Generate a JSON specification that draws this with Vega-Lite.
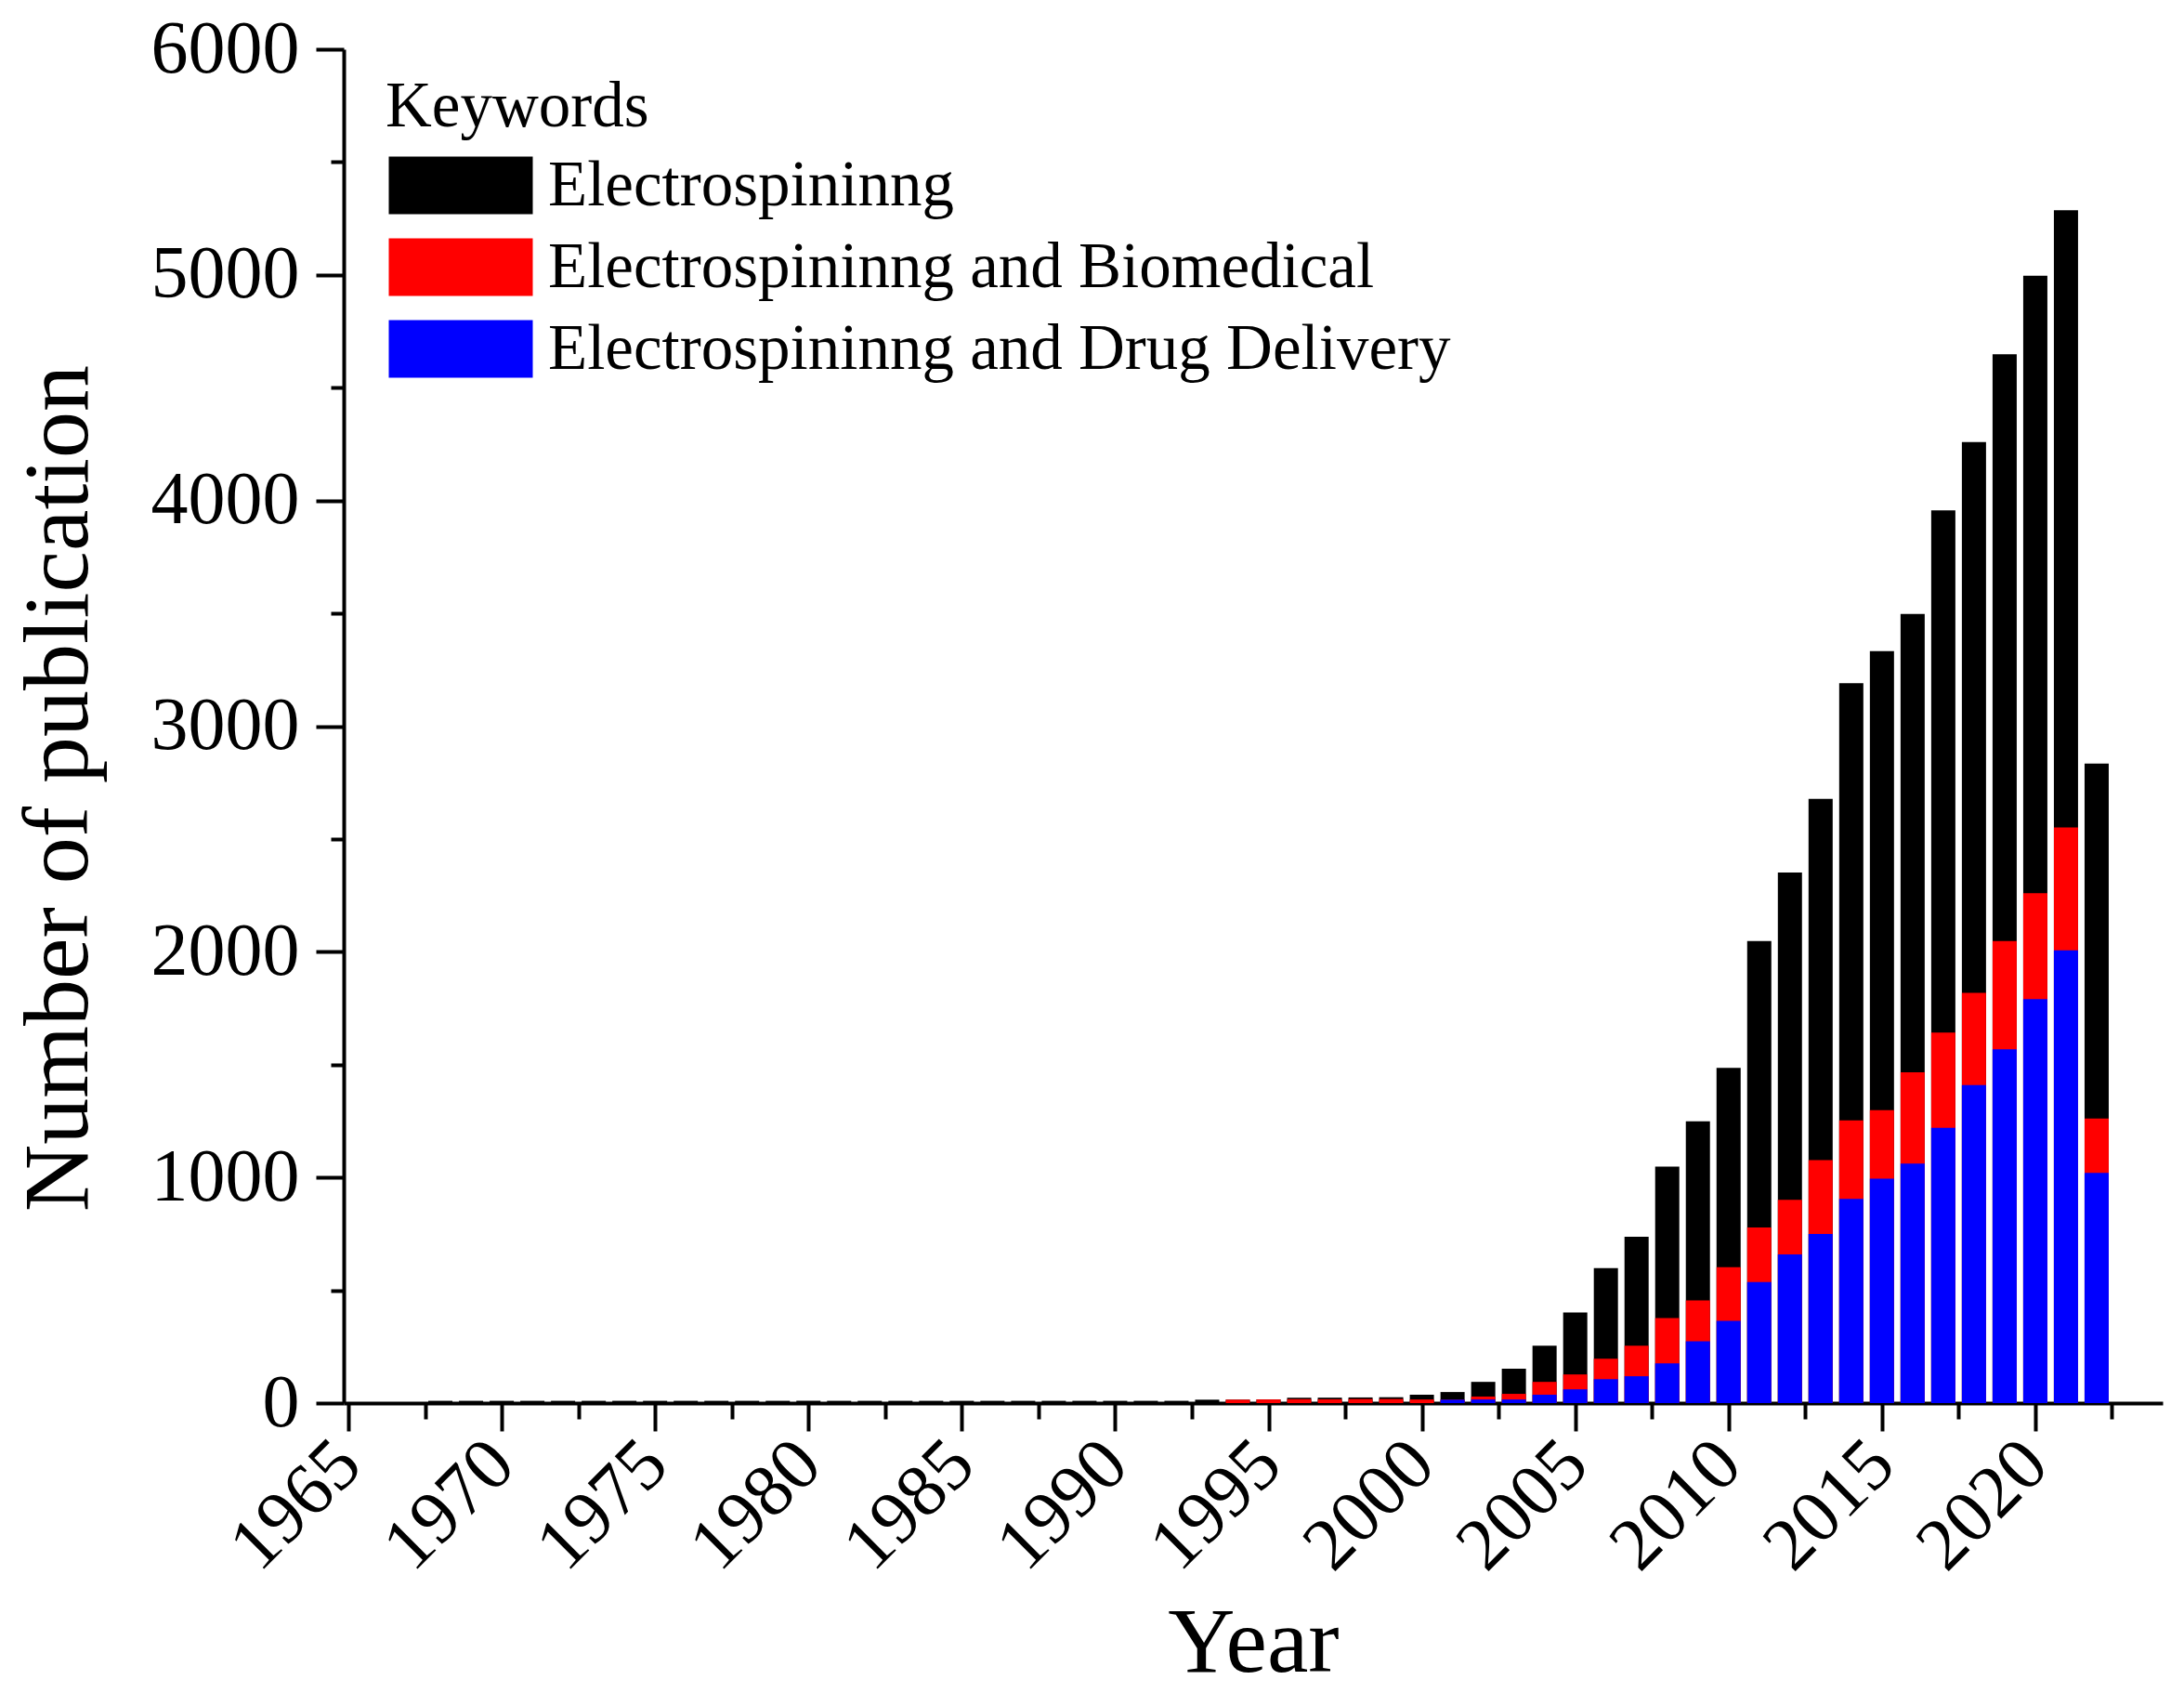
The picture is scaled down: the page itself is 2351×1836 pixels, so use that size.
{
  "$schema": "https://vega.github.io/schema/vega-lite/v6.json",
  "width": 1958,
  "height": 1457,
  "autosize": {"type": "none"},
  "padding": {"left": 370, "top": 53, "right": 23, "bottom": 326},
  "background": "white",
  "data": {"values": [
    {"year": 1968, "keyword": "Electrospininng", "count": 10},
    {"year": 1969, "keyword": "Electrospininng", "count": 10},
    {"year": 1970, "keyword": "Electrospininng", "count": 10},
    {"year": 1971, "keyword": "Electrospininng", "count": 10},
    {"year": 1972, "keyword": "Electrospininng", "count": 10},
    {"year": 1973, "keyword": "Electrospininng", "count": 10},
    {"year": 1974, "keyword": "Electrospininng", "count": 10},
    {"year": 1975, "keyword": "Electrospininng", "count": 10},
    {"year": 1976, "keyword": "Electrospininng", "count": 10},
    {"year": 1977, "keyword": "Electrospininng", "count": 10},
    {"year": 1978, "keyword": "Electrospininng", "count": 10},
    {"year": 1979, "keyword": "Electrospininng", "count": 10},
    {"year": 1980, "keyword": "Electrospininng", "count": 10},
    {"year": 1981, "keyword": "Electrospininng", "count": 10},
    {"year": 1982, "keyword": "Electrospininng", "count": 10},
    {"year": 1983, "keyword": "Electrospininng", "count": 10},
    {"year": 1984, "keyword": "Electrospininng", "count": 10},
    {"year": 1985, "keyword": "Electrospininng", "count": 10},
    {"year": 1986, "keyword": "Electrospininng", "count": 10},
    {"year": 1987, "keyword": "Electrospininng", "count": 10},
    {"year": 1988, "keyword": "Electrospininng", "count": 10},
    {"year": 1989, "keyword": "Electrospininng", "count": 10},
    {"year": 1990, "keyword": "Electrospininng", "count": 10},
    {"year": 1991, "keyword": "Electrospininng", "count": 10},
    {"year": 1992, "keyword": "Electrospininng", "count": 10},
    {"year": 1993, "keyword": "Electrospininng", "count": 15},
    {"year": 1994, "keyword": "Electrospininng", "count": 15},
    {"year": 1995, "keyword": "Electrospininng", "count": 16},
    {"year": 1996, "keyword": "Electrospininng", "count": 24},
    {"year": 1997, "keyword": "Electrospininng", "count": 24},
    {"year": 1998, "keyword": "Electrospininng", "count": 25},
    {"year": 1999, "keyword": "Electrospininng", "count": 26},
    {"year": 2000, "keyword": "Electrospininng", "count": 37},
    {"year": 2001, "keyword": "Electrospininng", "count": 49},
    {"year": 2002, "keyword": "Electrospininng", "count": 94},
    {"year": 2003, "keyword": "Electrospininng", "count": 152},
    {"year": 2004, "keyword": "Electrospininng", "count": 254},
    {"year": 2005, "keyword": "Electrospininng", "count": 401},
    {"year": 2006, "keyword": "Electrospininng", "count": 598},
    {"year": 2007, "keyword": "Electrospininng", "count": 737},
    {"year": 2008, "keyword": "Electrospininng", "count": 1048},
    {"year": 2009, "keyword": "Electrospininng", "count": 1249},
    {"year": 2010, "keyword": "Electrospininng", "count": 1486},
    {"year": 2011, "keyword": "Electrospininng", "count": 2048},
    {"year": 2012, "keyword": "Electrospininng", "count": 2351},
    {"year": 2013, "keyword": "Electrospininng", "count": 2678},
    {"year": 2014, "keyword": "Electrospininng", "count": 3190},
    {"year": 2015, "keyword": "Electrospininng", "count": 3333},
    {"year": 2016, "keyword": "Electrospininng", "count": 3497},
    {"year": 2017, "keyword": "Electrospininng", "count": 3956},
    {"year": 2018, "keyword": "Electrospininng", "count": 4259},
    {"year": 2019, "keyword": "Electrospininng", "count": 4648},
    {"year": 2020, "keyword": "Electrospininng", "count": 4996},
    {"year": 2021, "keyword": "Electrospininng", "count": 5287},
    {"year": 2022, "keyword": "Electrospininng", "count": 2834},
    {"year": 1994, "keyword": "Electrospininng and Biomedical", "count": 15},
    {"year": 1995, "keyword": "Electrospininng and Biomedical", "count": 16},
    {"year": 1996, "keyword": "Electrospininng and Biomedical", "count": 17},
    {"year": 1997, "keyword": "Electrospininng and Biomedical", "count": 17},
    {"year": 1998, "keyword": "Electrospininng and Biomedical", "count": 18},
    {"year": 1999, "keyword": "Electrospininng and Biomedical", "count": 18},
    {"year": 2000, "keyword": "Electrospininng and Biomedical", "count": 16},
    {"year": 2001, "keyword": "Electrospininng and Biomedical", "count": 15},
    {"year": 2002, "keyword": "Electrospininng and Biomedical", "count": 29},
    {"year": 2003, "keyword": "Electrospininng and Biomedical", "count": 41},
    {"year": 2004, "keyword": "Electrospininng and Biomedical", "count": 94},
    {"year": 2005, "keyword": "Electrospininng and Biomedical", "count": 127},
    {"year": 2006, "keyword": "Electrospininng and Biomedical", "count": 197},
    {"year": 2007, "keyword": "Electrospininng and Biomedical", "count": 254},
    {"year": 2008, "keyword": "Electrospininng and Biomedical", "count": 377},
    {"year": 2009, "keyword": "Electrospininng and Biomedical", "count": 455},
    {"year": 2010, "keyword": "Electrospininng and Biomedical", "count": 602},
    {"year": 2011, "keyword": "Electrospininng and Biomedical", "count": 778},
    {"year": 2012, "keyword": "Electrospininng and Biomedical", "count": 901},
    {"year": 2013, "keyword": "Electrospininng and Biomedical", "count": 1077},
    {"year": 2014, "keyword": "Electrospininng and Biomedical", "count": 1253},
    {"year": 2015, "keyword": "Electrospininng and Biomedical", "count": 1298},
    {"year": 2016, "keyword": "Electrospininng and Biomedical", "count": 1466},
    {"year": 2017, "keyword": "Electrospininng and Biomedical", "count": 1642},
    {"year": 2018, "keyword": "Electrospininng and Biomedical", "count": 1818},
    {"year": 2019, "keyword": "Electrospininng and Biomedical", "count": 2048},
    {"year": 2020, "keyword": "Electrospininng and Biomedical", "count": 2260},
    {"year": 2021, "keyword": "Electrospininng and Biomedical", "count": 2551},
    {"year": 2022, "keyword": "Electrospininng and Biomedical", "count": 1261},
    {"year": 2001, "keyword": "Electrospininng and Drug Delivery", "count": 15},
    {"year": 2002, "keyword": "Electrospininng and Drug Delivery", "count": 16},
    {"year": 2003, "keyword": "Electrospininng and Drug Delivery", "count": 16},
    {"year": 2004, "keyword": "Electrospininng and Drug Delivery", "count": 37},
    {"year": 2005, "keyword": "Electrospininng and Drug Delivery", "count": 61},
    {"year": 2006, "keyword": "Electrospininng and Drug Delivery", "count": 106},
    {"year": 2007, "keyword": "Electrospininng and Drug Delivery", "count": 119},
    {"year": 2008, "keyword": "Electrospininng and Drug Delivery", "count": 176},
    {"year": 2009, "keyword": "Electrospininng and Drug Delivery", "count": 274},
    {"year": 2010, "keyword": "Electrospininng and Drug Delivery", "count": 364},
    {"year": 2011, "keyword": "Electrospininng and Drug Delivery", "count": 536},
    {"year": 2012, "keyword": "Electrospininng and Drug Delivery", "count": 659},
    {"year": 2013, "keyword": "Electrospininng and Drug Delivery", "count": 749},
    {"year": 2014, "keyword": "Electrospininng and Drug Delivery", "count": 905},
    {"year": 2015, "keyword": "Electrospininng and Drug Delivery", "count": 995},
    {"year": 2016, "keyword": "Electrospininng and Drug Delivery", "count": 1061},
    {"year": 2017, "keyword": "Electrospininng and Drug Delivery", "count": 1220},
    {"year": 2018, "keyword": "Electrospininng and Drug Delivery", "count": 1409},
    {"year": 2019, "keyword": "Electrospininng and Drug Delivery", "count": 1568},
    {"year": 2020, "keyword": "Electrospininng and Drug Delivery", "count": 1790},
    {"year": 2021, "keyword": "Electrospininng and Drug Delivery", "count": 2007},
    {"year": 2022, "keyword": "Electrospininng and Drug Delivery", "count": 1020}
  ]},
  "mark": {"type": "bar", "size": 26},
  "encoding": {
    "x": {
      "field": "year",
      "type": "quantitative",
      "scale": {"domain": [1965, 2024], "nice": false, "zero": false},
      "axis": {
        "title": "Year",
        "values": [1965, 1967.5, 1970, 1972.5, 1975, 1977.5, 1980, 1982.5, 1985, 1987.5, 1990, 1992.5, 1995, 1997.5, 2000, 2002.5, 2005, 2007.5, 2010, 2012.5, 2015, 2017.5, 2020, 2022.5],
        "labelExpr": "datum.value % 5 === 0 ? format(datum.value, 'd') : ''",
        "tickSize": {"condition": {"test": "datum.value % 5 === 0", "value": 30}, "value": 17},
        "labelAngle": -45,
        "labelAlign": "right",
        "labelBaseline": "middle",
        "labelOverlap": false,
        "labelFontSize": 80,
        "labelPadding": 23,
        "titleFontSize": 100,
        "titlePadding": 15
      }
    },
    "y": {
      "field": "count",
      "type": "quantitative",
      "stack": null,
      "scale": {"domain": [0, 6000], "nice": false},
      "axis": {
        "title": "Number of publication",
        "values": [0, 500, 1000, 1500, 2000, 2500, 3000, 3500, 4000, 4500, 5000, 5500, 6000],
        "labelExpr": "datum.value % 1000 === 0 ? format(datum.value, 'd') : ''",
        "tickSize": {"condition": {"test": "datum.value % 1000 === 0", "value": 30}, "value": 14},
        "labelOverlap": false,
        "labelFontSize": 80,
        "labelPadding": 18,
        "titleFontSize": 100,
        "titlePadding": 56,
        "titleY": 795
      }
    },
    "color": {
      "field": "keyword",
      "type": "nominal",
      "scale": {
        "domain": ["Electrospininng", "Electrospininng and Biomedical", "Electrospininng and Drug Delivery"],
        "range": ["#000000", "#ff0000", "#0000ff"]
      },
      "legend": {
        "orient": "none",
        "legendX": 45,
        "legendY": 28,
        "title": "Keywords",
        "titleFontSize": 69,
        "titleFontWeight": "normal",
        "titleLimit": 2000,
        "titlePadding": 15,
        "labelFontSize": 69,
        "labelOffset": 106,
        "labelLimit": 2000,
        "symbolType": "M-1,-1H4V1H-1Z",
        "symbolSize": 3844,
        "symbolStrokeWidth": 0,
        "symbolOpacity": 1,
        "rowPadding": 18,
        "padding": 0
      }
    }
  },
  "config": {
    "view": {"stroke": null},
    "font": "Liberation Serif",
    "axis": {
      "grid": false,
      "domainColor": "#000000",
      "domainWidth": 4,
      "tickColor": "#000000",
      "tickWidth": 4,
      "labelColor": "#000000",
      "titleColor": "#000000",
      "titleFontWeight": "normal",
      "labelFont": "Liberation Serif",
      "titleFont": "Liberation Serif"
    },
    "legend": {
      "labelFont": "Liberation Serif",
      "titleFont": "Liberation Serif",
      "labelColor": "#000000",
      "titleColor": "#000000"
    }
  }
}
